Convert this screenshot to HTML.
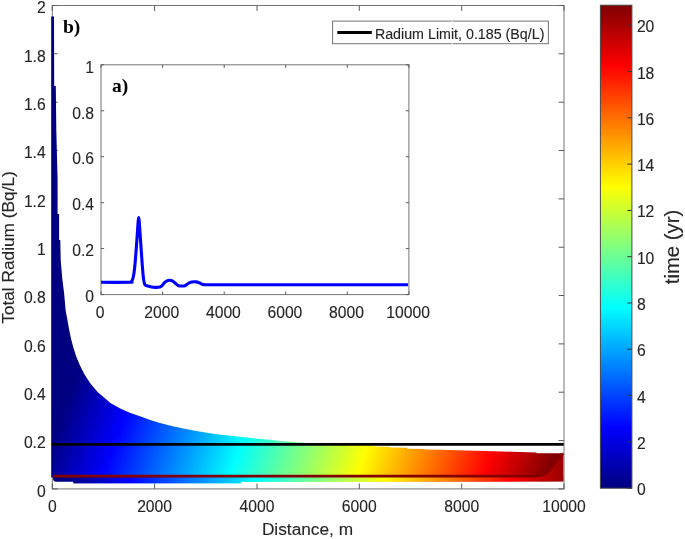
<!DOCTYPE html>
<html><head><meta charset="utf-8"><title>plot</title>
<style>
html,body{margin:0;padding:0;background:#fff;}
body{width:685px;height:539px;position:relative;overflow:hidden;}
svg text{font-family:'Liberation Sans', Arial, Helvetica, sans-serif;font-size:15.7px;fill:#262626;stroke:#262626;stroke-width:0.12px;}
svg text.lbl{font-size:17.3px;}
svg text.bl{font-family:'Liberation Serif','Times New Roman',serif;font-weight:bold;font-size:19.5px;fill:#000;stroke:none;}
</style></head><body>
<svg width="685" height="539" viewBox="0 0 685 539" style="position:absolute;left:0;top:0">
<defs>
<linearGradient id="jh" gradientUnits="userSpaceOnUse" x1="44.5" y1="462.0" x2="496.62" y2="620.24"><stop offset="0.0000" stop-color="#000080"/><stop offset="0.0312" stop-color="#00009f"/><stop offset="0.0625" stop-color="#0000bf"/><stop offset="0.0938" stop-color="#0000df"/><stop offset="0.1250" stop-color="#0000ff"/><stop offset="0.1562" stop-color="#0020ff"/><stop offset="0.1875" stop-color="#0040ff"/><stop offset="0.2188" stop-color="#0060ff"/><stop offset="0.2500" stop-color="#0080ff"/><stop offset="0.2812" stop-color="#009fff"/><stop offset="0.3125" stop-color="#00bfff"/><stop offset="0.3438" stop-color="#00dfff"/><stop offset="0.3750" stop-color="#00ffff"/><stop offset="0.4062" stop-color="#20ffdf"/><stop offset="0.4375" stop-color="#40ffbf"/><stop offset="0.4688" stop-color="#60ff9f"/><stop offset="0.5000" stop-color="#80ff80"/><stop offset="0.5312" stop-color="#9fff60"/><stop offset="0.5625" stop-color="#bfff40"/><stop offset="0.5938" stop-color="#dfff20"/><stop offset="0.6250" stop-color="#ffff00"/><stop offset="0.6562" stop-color="#ffdf00"/><stop offset="0.6875" stop-color="#ffbf00"/><stop offset="0.7188" stop-color="#ff9f00"/><stop offset="0.7500" stop-color="#ff8000"/><stop offset="0.7812" stop-color="#ff6000"/><stop offset="0.8125" stop-color="#ff4000"/><stop offset="0.8438" stop-color="#ff2000"/><stop offset="0.8750" stop-color="#ff0000"/><stop offset="0.9062" stop-color="#df0000"/><stop offset="0.9375" stop-color="#bf0000"/><stop offset="0.9688" stop-color="#9f0000"/><stop offset="1.0000" stop-color="#800000"/></linearGradient>
<linearGradient id="jl" gradientUnits="userSpaceOnUse" x1="66.5" y1="0" x2="574.0" y2="0"><stop offset="0.0000" stop-color="#000080"/><stop offset="0.0312" stop-color="#00009f"/><stop offset="0.0625" stop-color="#0000bf"/><stop offset="0.0938" stop-color="#0000df"/><stop offset="0.1250" stop-color="#0000ff"/><stop offset="0.1562" stop-color="#0020ff"/><stop offset="0.1875" stop-color="#0040ff"/><stop offset="0.2188" stop-color="#0060ff"/><stop offset="0.2500" stop-color="#0080ff"/><stop offset="0.2812" stop-color="#009fff"/><stop offset="0.3125" stop-color="#00bfff"/><stop offset="0.3438" stop-color="#00dfff"/><stop offset="0.3750" stop-color="#00ffff"/><stop offset="0.4062" stop-color="#20ffdf"/><stop offset="0.4375" stop-color="#40ffbf"/><stop offset="0.4688" stop-color="#60ff9f"/><stop offset="0.5000" stop-color="#80ff80"/><stop offset="0.5312" stop-color="#9fff60"/><stop offset="0.5625" stop-color="#bfff40"/><stop offset="0.5938" stop-color="#dfff20"/><stop offset="0.6250" stop-color="#ffff00"/><stop offset="0.6562" stop-color="#ffdf00"/><stop offset="0.6875" stop-color="#ffbf00"/><stop offset="0.7188" stop-color="#ff9f00"/><stop offset="0.7500" stop-color="#ff8000"/><stop offset="0.7812" stop-color="#ff6000"/><stop offset="0.8125" stop-color="#ff4000"/><stop offset="0.8438" stop-color="#ff2000"/><stop offset="0.8750" stop-color="#ff0000"/><stop offset="0.9062" stop-color="#df0000"/><stop offset="0.9375" stop-color="#bf0000"/><stop offset="0.9688" stop-color="#9f0000"/><stop offset="1.0000" stop-color="#800000"/></linearGradient>
<linearGradient id="jv" gradientUnits="userSpaceOnUse" x1="0" y1="488.2" x2="0" y2="5.52"><stop offset="0.0000" stop-color="#000080"/><stop offset="0.0312" stop-color="#00009f"/><stop offset="0.0625" stop-color="#0000bf"/><stop offset="0.0938" stop-color="#0000df"/><stop offset="0.1250" stop-color="#0000ff"/><stop offset="0.1562" stop-color="#0020ff"/><stop offset="0.1875" stop-color="#0040ff"/><stop offset="0.2188" stop-color="#0060ff"/><stop offset="0.2500" stop-color="#0080ff"/><stop offset="0.2812" stop-color="#009fff"/><stop offset="0.3125" stop-color="#00bfff"/><stop offset="0.3438" stop-color="#00dfff"/><stop offset="0.3750" stop-color="#00ffff"/><stop offset="0.4062" stop-color="#20ffdf"/><stop offset="0.4375" stop-color="#40ffbf"/><stop offset="0.4688" stop-color="#60ff9f"/><stop offset="0.5000" stop-color="#80ff80"/><stop offset="0.5312" stop-color="#9fff60"/><stop offset="0.5625" stop-color="#bfff40"/><stop offset="0.5938" stop-color="#dfff20"/><stop offset="0.6250" stop-color="#ffff00"/><stop offset="0.6562" stop-color="#ffdf00"/><stop offset="0.6875" stop-color="#ffbf00"/><stop offset="0.7188" stop-color="#ff9f00"/><stop offset="0.7500" stop-color="#ff8000"/><stop offset="0.7812" stop-color="#ff6000"/><stop offset="0.8125" stop-color="#ff4000"/><stop offset="0.8438" stop-color="#ff2000"/><stop offset="0.8750" stop-color="#ff0000"/><stop offset="0.9062" stop-color="#df0000"/><stop offset="0.9375" stop-color="#bf0000"/><stop offset="0.9688" stop-color="#9f0000"/><stop offset="1.0000" stop-color="#800000"/></linearGradient>
<linearGradient id="jr" gradientUnits="userSpaceOnUse" x1="537" y1="0" x2="563" y2="0"><stop offset="0" stop-color="#c80000"/><stop offset="1" stop-color="#9c0000"/></linearGradient>
</defs>
<rect x="52.3" y="5.5" width="511.7" height="483.4" fill="none" stroke="#767676" stroke-width="1"/>
<path d="M52.3,488.9V483.5M52.3,5.5V10.9M154.6,488.9V483.5M154.6,5.5V10.9M257.0,488.9V483.5M257.0,5.5V10.9M359.3,488.9V483.5M359.3,5.5V10.9M461.7,488.9V483.5M461.7,5.5V10.9M564.0,488.9V483.5M564.0,5.5V10.9M52.3,488.9H57.699999999999996M564.0,488.9H558.6M52.3,440.6H57.699999999999996M564.0,440.6H558.6M52.3,392.2H57.699999999999996M564.0,392.2H558.6M52.3,343.9H57.699999999999996M564.0,343.9H558.6M52.3,295.5H57.699999999999996M564.0,295.5H558.6M52.3,247.2H57.699999999999996M564.0,247.2H558.6M52.3,198.9H57.699999999999996M564.0,198.9H558.6M52.3,150.5H57.699999999999996M564.0,150.5H558.6M52.3,102.2H57.699999999999996M564.0,102.2H558.6M52.3,53.8H57.699999999999996M564.0,53.8H558.6M52.3,5.5H57.699999999999996M564.0,5.5H558.6" stroke="#5a5a5a" fill="none"/>
<text x="52.3" y="512.0" text-anchor="middle">0</text>
<text x="154.6" y="512.0" text-anchor="middle">2000</text>
<text x="257.0" y="512.0" text-anchor="middle">4000</text>
<text x="359.3" y="512.0" text-anchor="middle">6000</text>
<text x="461.7" y="512.0" text-anchor="middle">8000</text>
<text x="564.0" y="512.0" text-anchor="middle">10000</text>
<text x="45.7" y="496.6" text-anchor="end">0</text>
<text x="45.7" y="448.3" text-anchor="end">0.2</text>
<text x="45.7" y="399.9" text-anchor="end">0.4</text>
<text x="45.7" y="351.6" text-anchor="end">0.6</text>
<text x="45.7" y="303.2" text-anchor="end">0.8</text>
<text x="45.7" y="254.9" text-anchor="end">1</text>
<text x="45.7" y="206.6" text-anchor="end">1.2</text>
<text x="45.7" y="158.2" text-anchor="end">1.4</text>
<text x="45.7" y="109.9" text-anchor="end">1.6</text>
<text x="45.7" y="61.5" text-anchor="end">1.8</text>
<text x="45.7" y="13.2" text-anchor="end">2</text>
<text x="307.5" y="534.8" text-anchor="middle" class="lbl">Distance, m</text>
<text transform="translate(13.8,247.5) rotate(-90)" text-anchor="middle" class="lbl">Total Radium (Bq/L)</text>
<path d="M51.2,16.6 L54.0,16.6 L54.2,86.0 L55.8,86.0 L56.3,130.0 L57.6,180.0 L57.6,214.0 L59.1,214.0 L59.1,240.0 L60.3,240.0 L60.7,260.0 L62.2,278.0 L64.1,293.0 L65.6,310.0 L69.2,330.0 L71.1,338.9 L73.4,347.8 L76.3,356.7 L80.0,365.6 L84.5,374.5 L90.4,383.4 L97.8,392.3 L107.5,400.5 L110.0,402.7 L120.2,408.4 L130.4,412.9 L140.7,416.6 L150.9,420.2 L160.0,422.9 L171.7,426.1 L183.4,428.4 L195.0,430.8 L206.7,432.8 L218.4,434.5 L228.6,435.5 L235.1,436.2 L242.1,437.0 L249.2,437.8 L255.3,438.4 L264.0,439.2 L271.9,439.9 L280.3,440.9 L290.2,441.8 L300.7,442.6 L310.7,443.2 L315.0,444.6 L374.6,445.4 L374.6,446.6 L390.0,446.7 L390.0,447.6 L407.4,447.8 L407.4,448.7 L424.5,448.9 L424.5,449.4 L441.0,449.8 L466.0,450.5 L486.0,451.1 L512.0,451.7 L536.0,452.4 L537.0,453.2 L563.2,453.2 L563.2,481.3 L440.0,481.5 L241.0,481.8 L241.0,483.2 L73.5,483.2 L73.5,481.5 L55.3,481.5 L53.3,479.5 L53.3,477.6 L51.2,477.6 Z" fill="url(#jh)"/>
<path d="M53.3,476 L563.2,476 L563.2,481.3 L440,481.5 L241,481.8 L241,483.2 L73.5,483.2 L73.5,481.5 L55.3,481.5 Q53.3,481.5 53.3,479.5 Z" fill="url(#jl)"/>
<path d="M537.30,476.00 C537.75,475.92 539.00,475.77 540.00,475.50 C541.00,475.23 542.18,474.92 543.30,474.40 C544.42,473.88 545.67,473.17 546.70,472.40 C547.73,471.63 548.67,470.70 549.50,469.80 C550.33,468.90 550.97,467.93 551.70,467.00 C552.43,466.07 553.17,465.17 553.90,464.20 C554.63,463.23 555.27,462.30 556.10,461.20 C556.93,460.10 557.97,458.67 558.90,457.60 C559.83,456.53 560.98,455.47 561.70,454.80 C562.42,454.13 562.95,453.80 563.20,453.60 L563.2,481.3 L537,481.3 Z" fill="url(#jr)"/>
<path d="M52.8,476.2 L537.3,476.1 C537.75,475.92 539.00,475.77 540.00,475.50 C541.00,475.23 542.18,474.92 543.30,474.40 C544.42,473.88 545.67,473.17 546.70,472.40 C547.73,471.63 548.67,470.70 549.50,469.80 C550.33,468.90 550.97,467.93 551.70,467.00 C552.43,466.07 553.17,465.17 553.90,464.20 C554.63,463.23 555.27,462.30 556.10,461.20 C556.93,460.10 557.97,458.67 558.90,457.60 C559.83,456.53 560.98,455.47 561.70,454.80 C562.42,454.13 562.95,453.80 563.20,453.60" fill="none" stroke="#820000" stroke-width="2.8"/>
<line x1="51.8" y1="444.4" x2="563.7" y2="444.4" stroke="#000" stroke-width="2.6"/>
<text x="63" y="33" class="bl">b)</text>
<rect x="101.0" y="64.8" width="307.9" height="229.8" fill="#fff" stroke="#767676"/>
<path d="M101.0,294.6V291.5M101.0,64.8V67.89999999999999M162.6,294.6V291.5M162.6,64.8V67.89999999999999M224.2,294.6V291.5M224.2,64.8V67.89999999999999M285.7,294.6V291.5M285.7,64.8V67.89999999999999M347.3,294.6V291.5M347.3,64.8V67.89999999999999M408.9,294.6V291.5M408.9,64.8V67.89999999999999M101.0,294.6H104.1M408.9,294.6H405.79999999999995M101.0,248.6H104.1M408.9,248.6H405.79999999999995M101.0,202.7H104.1M408.9,202.7H405.79999999999995M101.0,156.7H104.1M408.9,156.7H405.79999999999995M101.0,110.8H104.1M408.9,110.8H405.79999999999995M101.0,64.8H104.1M408.9,64.8H405.79999999999995" stroke="#5a5a5a" fill="none"/>
<text x="100.2" y="318.1" text-anchor="middle">0</text>
<text x="161.8" y="318.1" text-anchor="middle">2000</text>
<text x="223.4" y="318.1" text-anchor="middle">4000</text>
<text x="284.9" y="318.1" text-anchor="middle">6000</text>
<text x="346.5" y="318.1" text-anchor="middle">8000</text>
<text x="408.1" y="318.1" text-anchor="middle">10000</text>
<text x="94.1" y="302.3" text-anchor="end">0</text>
<text x="94.1" y="256.3" text-anchor="end">0.2</text>
<text x="94.1" y="210.4" text-anchor="end">0.4</text>
<text x="94.1" y="164.4" text-anchor="end">0.6</text>
<text x="94.1" y="118.5" text-anchor="end">0.8</text>
<text x="94.1" y="72.5" text-anchor="end">1</text>
<text x="112" y="92.3" class="bl">a)</text>
<path d="M101.00,282.30 C105.75,282.30 124.50,282.38 129.50,282.30 C134.50,282.22 130.53,282.18 131.00,281.80 C131.47,281.42 131.88,280.97 132.30,280.00 C132.72,279.03 133.12,278.00 133.50,276.00 C133.88,274.00 134.25,271.17 134.60,268.00 C134.95,264.83 135.27,261.00 135.60,257.00 C135.93,253.00 136.28,248.33 136.60,244.00 C136.92,239.67 137.23,234.83 137.50,231.00 C137.77,227.17 138.00,223.23 138.20,221.00 C138.40,218.77 138.53,217.60 138.70,217.60 C138.87,217.60 139.00,218.77 139.20,221.00 C139.40,223.23 139.63,227.17 139.90,231.00 C140.17,234.83 140.50,239.67 140.80,244.00 C141.10,248.33 141.42,253.00 141.70,257.00 C141.98,261.00 142.23,264.67 142.50,268.00 C142.77,271.33 143.02,274.58 143.30,277.00 C143.58,279.42 143.87,281.15 144.20,282.50 C144.53,283.85 144.53,284.48 145.30,285.10 C146.07,285.72 147.50,285.85 148.80,286.20 C150.10,286.55 151.28,287.05 153.10,287.20 C154.92,287.35 158.13,287.45 159.70,287.10 C161.27,286.75 161.58,285.97 162.50,285.10 C163.42,284.23 164.12,282.70 165.20,281.90 C166.28,281.10 167.82,280.48 169.00,280.30 C170.18,280.12 171.30,280.35 172.30,280.80 C173.30,281.25 174.00,282.20 175.00,283.00 C176.00,283.80 177.20,285.10 178.30,285.60 C179.40,286.10 180.50,285.98 181.60,286.00 C182.70,286.02 183.80,286.12 184.90,285.70 C186.00,285.28 187.10,284.10 188.20,283.50 C189.30,282.90 190.22,282.37 191.50,282.10 C192.78,281.83 194.53,281.75 195.90,281.90 C197.27,282.05 198.52,282.55 199.70,283.00 C200.88,283.45 201.78,284.30 203.00,284.60 C204.22,284.90 205.50,284.77 207.00,284.80 C208.50,284.83 211.17,284.80 212.00,284.80 L408,284.8" fill="none" stroke="#0000ff" stroke-width="3.1" stroke-linejoin="round"/>
<rect x="332.6" y="21.1" width="215.8" height="22.6" fill="#fff" stroke="#767676"/>
<path d="M452.3,20.5V22.2M452.3,43V44.6" stroke="#fff" stroke-width="0.9"/>
<line x1="337.3" y1="32.4" x2="371.8" y2="32.4" stroke="#000" stroke-width="3"/>
<text x="374.9" y="38.5" style="font-size:14.25px">Radium Limit, 0.185 (Bq/L)</text>
<rect x="600.4" y="5.2" width="31.5" height="483.0" fill="url(#jv)" stroke="#484848"/>
<path d="M631.9,488.2H627.3M631.9,441.9H627.3M631.9,395.6H627.3M631.9,349.3H627.3M631.9,303.0H627.3M631.9,256.7H627.3M631.9,210.4H627.3M631.9,164.1H627.3M631.9,117.8H627.3M631.9,71.5H627.3M631.9,25.2H627.3" stroke="#383838" fill="none"/>
<text x="636.9" y="495.2">0</text>
<text x="636.9" y="448.9">2</text>
<text x="636.9" y="402.6">4</text>
<text x="636.9" y="356.3">6</text>
<text x="636.9" y="310.0">8</text>
<text x="636.9" y="263.7">10</text>
<text x="636.9" y="217.4">12</text>
<text x="636.9" y="171.1">14</text>
<text x="636.9" y="124.8">16</text>
<text x="636.9" y="78.5">18</text>
<text x="636.9" y="32.2">20</text>
<text transform="translate(679.4,247) rotate(-90)" text-anchor="middle" style="font-size:20.3px">time (yr)</text>
</svg>
</body></html>
